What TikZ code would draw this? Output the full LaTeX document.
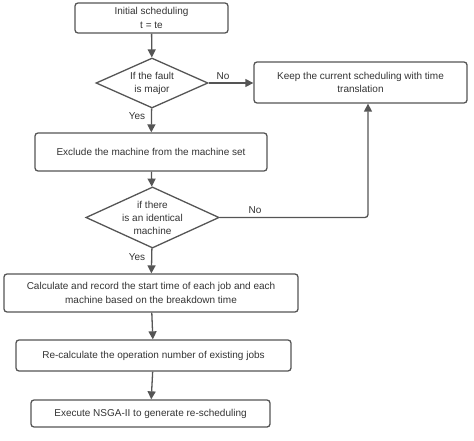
\documentclass[tikz,border=0pt]{standalone}
\usepackage{fontspec}
\setmainfont{Liberation Sans}
\usetikzlibrary{shapes.geometric,arrows.meta}
\definecolor{ln}{HTML}{555555}
\definecolor{tx}{HTML}{333333}
\begin{document}
\begin{tikzpicture}[x=1pt,y=-1pt,
  box/.style={draw=ln,line width=1.3pt,rounded corners=3pt,text=tx,font=\fontsize{10}{13.5}\selectfont,align=center,inner sep=0pt},
  dia/.style={draw=ln,line width=1.3pt,diamond,text=tx,font=\fontsize{10}{13}\selectfont,align=center,inner sep=0pt},
  arr/.style={draw=ln,line width=1.3pt,-{Triangle[length=8pt,width=8pt]}},
  lbl/.style={text=tx,font=\fontsize{10}{12}\selectfont,inner sep=0pt}]
\useasboundingbox (0,0) rectangle (474,441);
\node[box,minimum width=153pt,minimum height=30pt] (init) at (151.5,18) {Initial scheduling\\t = te};
\node[dia,minimum width=112pt,minimum height=50pt,aspect=2.24] (d1) at (152,83) {If the fault\\is major};
\node[box,minimum width=213pt,minimum height=41pt] (keep) at (360.5,82.5) {Keep the current scheduling with time\\translation};
\node[box,minimum width=232pt,minimum height=38pt] (excl) at (151,152) {Exclude the machine from the machine set};
\node[dia,minimum width=133pt,minimum height=61pt,aspect=2.18] (d2) at (152.5,217.5) {if there\\is an identical\\machine};
\node[box,minimum width=294pt,minimum height=38pt] (calc) at (151,293) {Calculate and record the start time of each job and each\\machine based on the breakdown time};
\node[box,minimum width=275pt,minimum height=31pt] (recalc) at (153.5,355.5) {Re-calculate the operation number of existing jobs};
\node[box,minimum width=239pt,minimum height=27pt] (exec) at (150.5,413.5) {Execute NSGA-II to generate re-scheduling};
\coordinate (c1) at (368,217.5);
\draw[arr] (init) -- (d1);
\draw[arr] (d1.east) -- (keep.west|-d1.east);
\draw[arr] (d1) -- (excl);
\draw[arr] (excl) -- (d2);
\draw[arr,rounded corners=3pt] (d2.east) -- (c1) -- (c1|-keep.south);
\draw[arr] (d2) -- (calc);
\draw[arr] (calc) -- (recalc);
\draw[arr] (recalc) -- (exec);
\node[lbl] (no1) at (223,76) {No};
\node[lbl] (yes1) at (137,116) {Yes};
\node[lbl] (no2) at (255,210) {No};
\node[lbl] (yes2) at (137,257) {Yes};
\end{tikzpicture}
\end{document}
